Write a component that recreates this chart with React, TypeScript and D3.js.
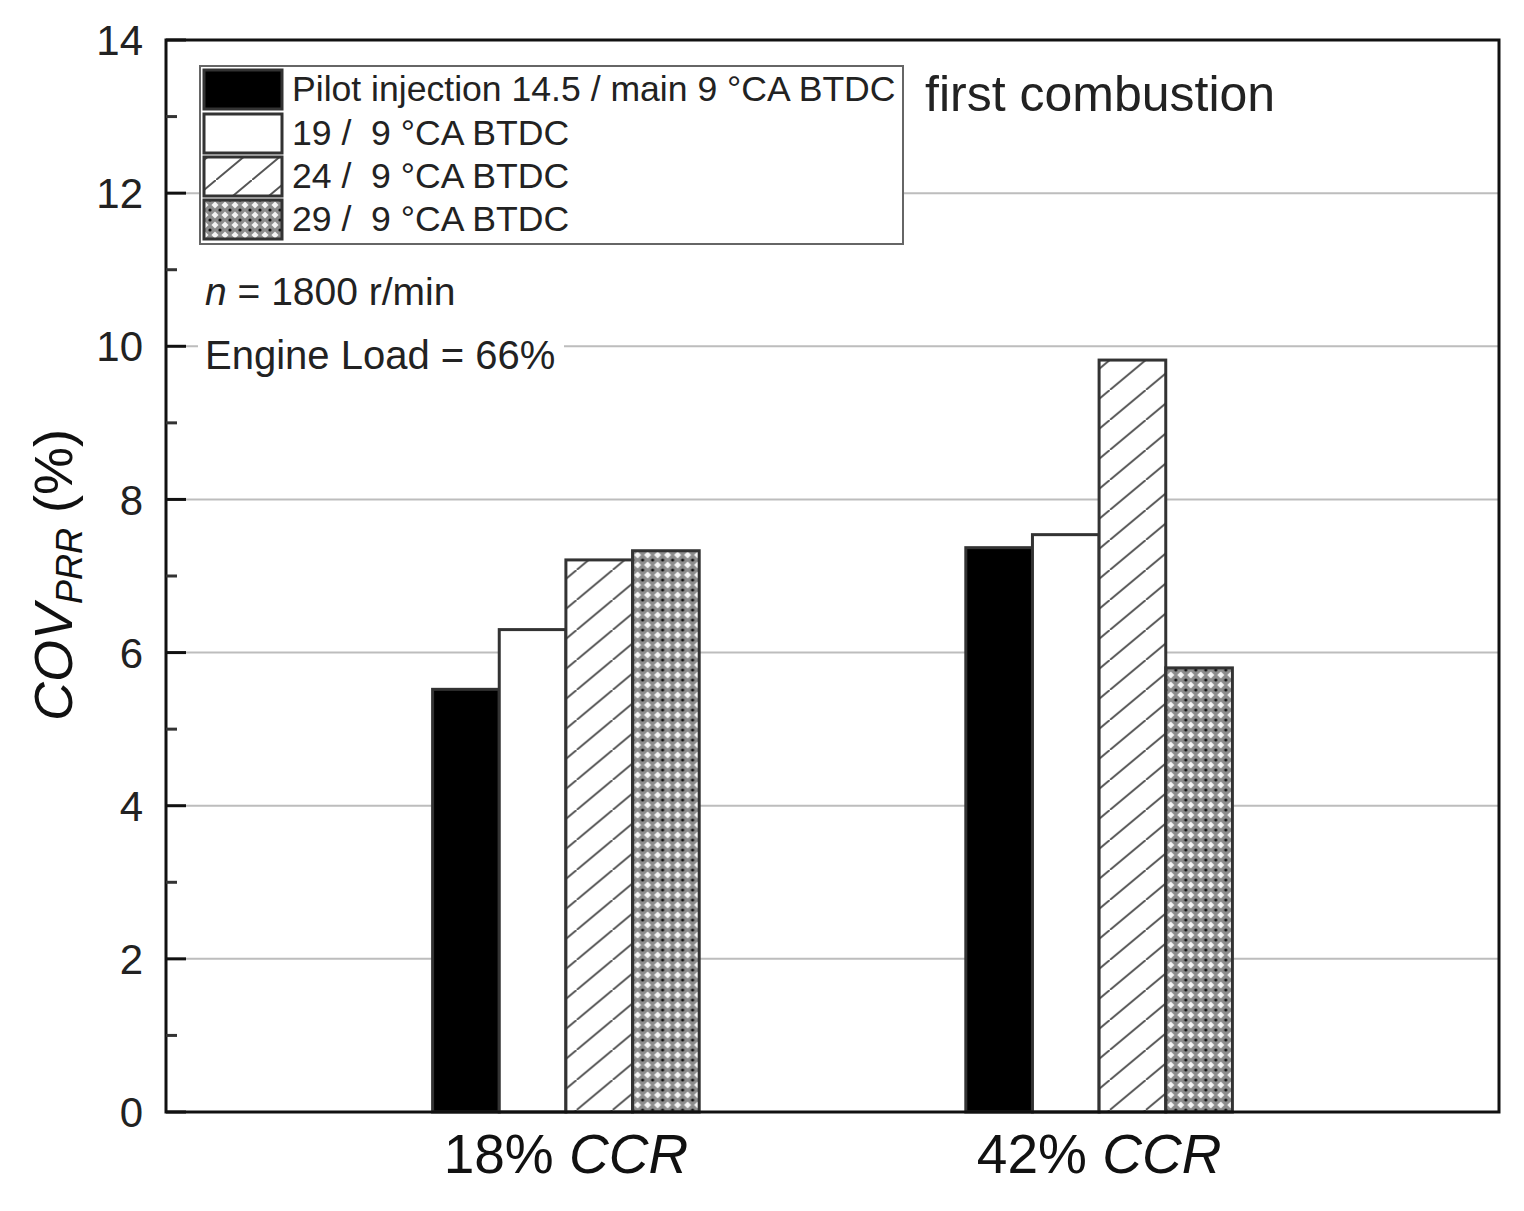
import React from "react";
import * as d3 from "d3";

const categories = ["18% CCR", "42% CCR"];
const seriesLabels = [
  "Pilot injection 14.5 / main 9 °CA BTDC",
  "19 /  9 °CA BTDC",
  "24 /  9 °CA BTDC",
  "29 /  9 °CA BTDC",
];
const series14_5 = [5.52, 7.37];
const series19 = [6.3, 7.54];
const series24 = [7.21, 9.82];
const series29 = [7.33, 5.8];
const seriesValues = [series14_5, series19, series24, series29];
const majorTicks = [0, 2, 4, 6, 8, 10, 12, 14];
const minorTicks = [1, 3, 5, 7, 9, 11, 13];

const W = 1524;
const H = 1211;
const L = 166, R = 1499, T = 40, B = 1112;
const FONT = "'Liberation Sans', Arial, Helvetica, sans-serif";
const fills = ["#000", "#fff", "url(#hatch)", "url(#cross)"];

export default function App() {
  const y = d3.scaleLinear().domain([0, 14]).range([B, T]);
  const x0 = d3.scaleBand<string>().domain(categories).range([L, R]).paddingInner(0.5).paddingOuter(0.5);
  const x1 = d3.scaleBand<number>().domain(d3.range(seriesValues.length)).range([0, x0.bandwidth()]);

  const legendRowsY = [70, 114, 157, 200];

  return (
    <svg width={W} height={H} style={{ position: "absolute", left: 0, top: 0, background: "#fff" }} fontFamily={FONT}>
      <defs>
        <pattern id="hatch" patternUnits="userSpaceOnUse" width={36} height={30}>
          <rect width={36} height={30} fill="#fff" />
          <line x1={-6} y1={35} x2={42} y2={-5} stroke="#555" strokeWidth={2} />
        </pattern>
        <pattern id="cross" patternUnits="userSpaceOnUse" width={10} height={10}>
          <rect width={10} height={10} fill="#8c8c8c" />
          <rect x={2.5} y={2.5} width={5} height={5} fill="#f4f4f4" transform="rotate(45 5 5)" />
          <circle cx={0} cy={0} r={1.6} fill="#111" />
          <circle cx={10} cy={0} r={1.6} fill="#111" />
          <circle cx={0} cy={10} r={1.6} fill="#111" />
          <circle cx={10} cy={10} r={1.6} fill="#111" />
        </pattern>
      </defs>

      {/* gridlines */}
      {majorTicks.filter((t) => t > 0 && t < 14).map((t) => (
        <line key={"g" + t} x1={L} x2={R} y1={y(t)} y2={y(t)} stroke="#bdbdbd" strokeWidth={2} />
      ))}

      {/* bars */}
      {categories.map((c, ci) => (
        <g key={c} transform={`translate(${x0(c)},0)`}>
          {seriesValues.map((vals, si) => (
            <rect
              key={si}
              x={x1(si)!}
              y={y(vals[ci])}
              width={x1.bandwidth()}
              height={y(0) - y(vals[ci])}
              fill={fills[si]}
              stroke="#333"
              strokeWidth={3}
            />
          ))}
        </g>
      ))}

      {/* axes frame */}
      <rect x={L} y={T} width={R - L} height={B - T} fill="none" stroke="#111" strokeWidth={3} />

      {/* ticks */}
      {majorTicks.map((t) => (
        <g key={"t" + t}>
          <line x1={L} x2={L + 20} y1={y(t)} y2={y(t)} stroke="#111" strokeWidth={3} />
          <text x={143} y={y(t)} dy="0.36em" textAnchor="end" fontSize={42} fill="#222">
            {t}
          </text>
        </g>
      ))}
      {minorTicks.map((t) => (
        <line key={"m" + t} x1={L} x2={L + 11} y1={y(t)} y2={y(t)} stroke="#333" strokeWidth={3} />
      ))}

      {/* category labels */}
      {categories.map((c) => {
        const [pct, ...rest] = c.split(" ");
        return (
          <text key={"c" + c} x={x0(c)! + x0.bandwidth() / 2} y={1173} textAnchor="middle" fontSize={55} fill="#111">
            {pct + " "}
            <tspan fontStyle="italic">{rest.join(" ")}</tspan>
          </text>
        );
      })}

      {/* y-axis title */}
      <text transform="translate(72,575) rotate(-90)" textAnchor="middle" fontSize={54} fill="#111">
        <tspan fontStyle="italic">COV</tspan>
        <tspan fontStyle="italic" fontSize={36} dy={10}>PRR</tspan>
        <tspan dy={-10}> (%)</tspan>
      </text>

      {/* legend */}
      <rect x={200} y={66} width={703} height={178} fill="#fff" stroke="#666" strokeWidth={2} />
      {seriesLabels.map((lab, i) => (
        <g key={"l" + i}>
          <rect x={204} y={legendRowsY[i]} width={78} height={39} fill={fills[i]} stroke="#333" strokeWidth={3} />
          <text x={292} y={legendRowsY[i] + 31} fontSize={35.6} fill="#222" style={{ whiteSpace: "pre" }}>
            {lab}
          </text>
        </g>
      ))}

      {/* annotations */}
      <text x={925} y={111} fontSize={50} fill="#222">first combustion</text>
      <text x={205} y={305} fontSize={39} fill="#222">
        <tspan fontStyle="italic">n</tspan> = 1800 r/min
      </text>
      <rect x={198} y={330} width={366} height={50} fill="#fff" />
      <text x={205} y={369} fontSize={40} fill="#222">Engine Load = 66%</text>
    </svg>
  );
}
